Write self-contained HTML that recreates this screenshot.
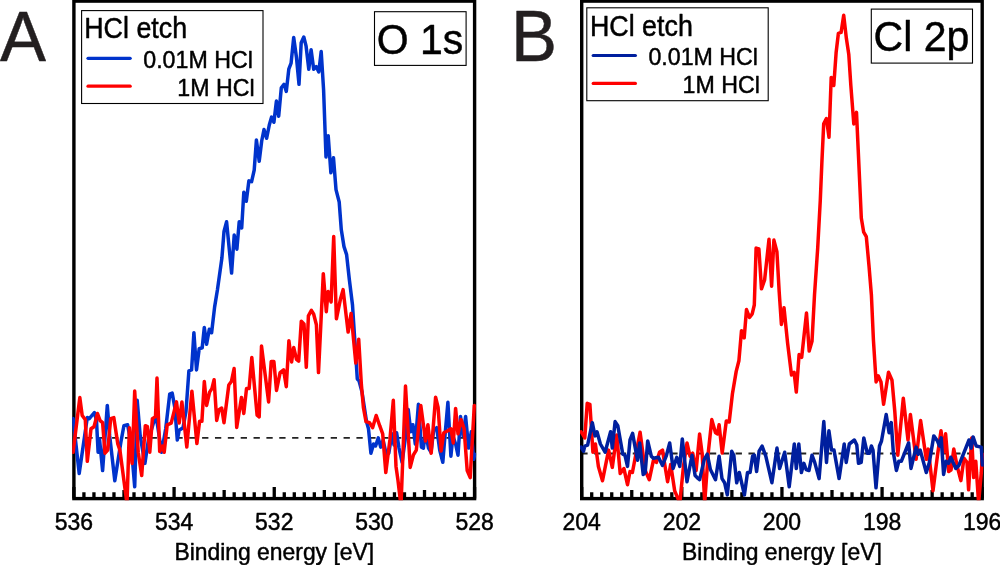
<!DOCTYPE html>
<html><head><meta charset="utf-8"><title>XPS O 1s and Cl 2p</title>
<style>
html,body{margin:0;padding:0;background:#fff;}
body{width:1000px;height:565px;overflow:hidden;}
svg{display:block;font-family:"Liberation Sans",Arial,Helvetica,sans-serif;}
</style></head>
<body>
<svg width="1000" height="565" viewBox="0 0 1000 565">
<rect width="1000" height="565" fill="#fff"/>
<clipPath id="ca"><rect x="72.20" y="0" width="404.10" height="500.30"/></clipPath>
<line x1="73.5" y1="437.9" x2="474.6" y2="437.9" stroke="#222" stroke-width="1.8" stroke-dasharray="6.3 6.56"/>
<rect x="73.9" y="1.1" width="400.70000000000005" height="497.5" fill="none" stroke="#000" stroke-width="3.4"/>
<path d="M73.90,498.6V487.1M83.92,498.6V492.35M93.94,498.6V492.35M103.95,498.6V492.35M113.97,498.6V492.35M123.99,498.6V489.9M134.00,498.6V492.35M144.02,498.6V492.35M154.04,498.6V492.35M164.06,498.6V492.35M174.08,498.6V487.1M184.09,498.6V492.35M194.11,498.6V492.35M204.13,498.6V492.35M214.15,498.6V492.35M224.16,498.6V489.9M234.18,498.6V492.35M244.20,498.6V492.35M254.22,498.6V492.35M264.23,498.6V492.35M274.25,498.6V487.1M284.27,498.6V492.35M294.29,498.6V492.35M304.30,498.6V492.35M314.32,498.6V492.35M324.34,498.6V489.9M334.36,498.6V492.35M344.37,498.6V492.35M354.39,498.6V492.35M364.41,498.6V492.35M374.43,498.6V487.1M384.44,498.6V492.35M394.46,498.6V492.35M404.48,498.6V492.35M414.50,498.6V492.35M424.51,498.6V489.9M434.53,498.6V492.35M444.55,498.6V492.35M454.57,498.6V492.35M464.58,498.6V492.35M474.60,498.6V487.1" stroke="#000" stroke-width="3.3" fill="none"/>
<g clip-path="url(#ca)">
<polyline points="73.1,418.6 79.2,473.5 87.3,417.6 89.3,418.6 94.4,412.5 96.5,420.6 98.1,452.2 99.5,438.9 102.6,470.5 107.3,405.4 109.7,435.9 114.8,480.7 120.9,442.0 123.9,425.7 127.6,424.7 131.1,444.0 134.7,486.8 137.2,400.3 140.2,435.9 144.9,463.4 148.4,440.0 153.5,422.7 156.5,418.6 161.6,452.2 165.7,428.8 169.7,394.2 172.2,393.1 174.8,407.4 177.3,440.0 179.2,430.2 183.0,427.7 186.0,411.5 188.9,370.8 191.6,369.9 193.9,332.7 196.5,369.9 199.2,348.7 202.2,347.8 204.3,327.4 206.6,344.2 209.3,329.2 211.6,332.7 214.6,307.1 217.4,290.0 221.9,258.1 224.0,231.5 226.6,221.8 231.6,273.1 234.2,235.1 236.9,249.2 239.2,221.8 241.7,228.0 243.8,192.3 246.3,201.2 248.9,180.8 251.6,181.7 254.2,170.2 256.4,140.1 259.2,161.3 261.7,141.0 264.0,129.5 266.6,138.3 269.3,125.0 271.6,117.1 273.9,122.3 276.4,101.1 278.7,116.2 281.3,87.8 284.0,84.3 286.3,91.4 288.8,69.2 291.1,63.1 293.7,37.4 296.4,56.9 299.0,84.3 301.2,42.7 303.8,37.0 306.1,46.2 308.8,69.2 311.1,49.8 313.7,69.2 316.2,66.6 318.8,71.9 321.2,51.5 323.6,90.0 326.0,157.0 328.2,135.7 330.9,172.8 333.5,157.8 336.0,189.6 339.2,202.0 341.3,229.8 344.0,246.6 346.6,254.6 349.3,279.3 352.5,305.0 357.3,379.0 359.0,380.8 362.0,392.0 366.5,421.6 368.5,428.8 370.9,453.2 373.6,444.0 375.6,446.0 378.3,437.9 380.7,447.1 383.1,440.0 386.4,455.2 388.8,453.2 391.9,433.8 394.0,445.0 396.6,432.8 399.0,448.1 402.1,462.3 405.1,440.0 408.2,409.4 410.8,431.8 412.9,424.7 415.3,444.0 418.4,404.3 421.4,447.1 423.4,448.1 425.5,431.8 428.5,448.1 431.0,452.2 433.6,430.8 436.7,427.7 439.7,450.1 442.8,462.3 444.8,437.9 447.9,402.3 450.9,456.2 452.9,435.9 455.6,444.0 458.0,455.2 460.5,416.5 463.1,435.9 465.6,416.5 468.6,448.1 471.3,431.8 473.7,459.3 474.7,454.2" fill="none" stroke="#0033cc" stroke-width="3.5" stroke-linejoin="round" stroke-linecap="round"/>
<polyline points="73.1,452.2 79.8,397.6 82.2,415.5 85.3,419.6 87.3,461.3 91.0,428.8 94.0,426.7 97.5,413.5 100.1,420.6 102.6,422.7 105.0,453.2 107.7,450.1 110.7,418.6 113.8,417.6 117.8,444.0 119.9,450.1 127.0,504.0 129.4,427.7 132.1,463.4 134.7,391.1 138.2,452.2 141.7,475.6 145.3,425.7 147.4,426.7 149.8,452.2 152.4,418.6 155.5,416.6 157.0,378.0 159.7,451.4 162.4,446.1 164.2,452.3 167.2,424.9 171.2,423.1 176.5,401.9 179.2,423.1 181.9,401.9 186.8,447.0 191.9,391.2 196.9,443.5 199.6,421.3 201.9,421.3 204.3,381.5 206.6,405.4 209.6,392.1 211.9,388.6 214.1,379.7 216.7,420.4 219.0,409.8 221.7,408.1 224.0,422.7 228.8,385.0 231.4,381.5 234.1,368.5 236.7,427.5 241.5,397.4 243.8,413.4 246.5,388.6 249.1,388.6 251.8,357.5 257.1,415.1 259.2,416.9 261.5,346.0 268.6,401.9 271.2,361.6 273.9,361.6 276.5,390.4 280.1,372.7 283.6,369.9 286.3,386.7 288.9,340.7 291.6,361.9 293.7,347.4 296.5,359.3 298.7,361.1 301.3,321.2 304.0,323.9 306.3,367.3 308.4,315.9 311.4,310.3 313.7,314.2 316.4,324.8 318.5,372.6 323.3,273.7 326.3,311.7 328.1,291.4 331.1,302.0 333.7,236.5 336.4,318.8 340.4,299.3 343.1,289.6 348.1,332.1 351.1,313.5 355.8,363.1 358.7,339.2 361.4,385.0 363.4,407.4 366.0,421.6 369.5,422.6 372.6,427.7 376.2,415.5 379.7,425.7 382.7,433.8 385.8,472.5 389.9,439.9 393.3,400.3 396.0,466.4 398.0,480.6 401.0,506.0 405.5,386.0 410.2,467.4 413.3,455.2 416.3,450.1 420.8,405.4 423.4,424.7 425.5,441.0 427.9,424.7 431.2,453.2 435.6,397.2 438.1,407.4 441.1,451.1 443.8,432.8 447.9,430.8 450.9,428.8 453.3,443.0 455.6,408.4 458.0,433.8 461.1,419.6 464.1,428.8 467.2,470.5 470.2,477.6 474.3,405.4" fill="none" stroke="#ff0000" stroke-width="3.5" stroke-linejoin="round" stroke-linecap="round"/>
</g>
<rect x="81.6" y="10.6" width="181.4" height="92.9" fill="#fff" stroke="#000" stroke-width="1.1"/>
<text transform="translate(84.20,38.20) scale(1.0,1.085)" font-size="26.85" text-anchor="start" fill="#000" stroke="#000" stroke-width="0.45" stroke-linejoin="round">HCl etch</text>
<line x1="88.0" y1="58.3" x2="130.2" y2="58.3" stroke="#0033cc" stroke-width="3.2" stroke-linecap="round"/>
<line x1="88.0" y1="86.2" x2="130.2" y2="86.2" stroke="#ff0000" stroke-width="3.2" stroke-linecap="round"/>
<text transform="translate(252.80,67.70) scale(1.0,1.0)" font-size="23.2" text-anchor="end" fill="#000" stroke="#000" stroke-width="0.45" stroke-linejoin="round">0.01M HCl</text>
<text transform="translate(254.60,95.60) scale(1.0,1.0)" font-size="23.2" text-anchor="end" fill="#000" stroke="#000" stroke-width="0.45" stroke-linejoin="round">1M HCl</text>
<rect x="374.5" y="11.7" width="91.6" height="53.7" fill="#fff" stroke="#000" stroke-width="1.1"/>
<text transform="translate(376.70,53.80) scale(1.0,1.045)" font-size="41" text-anchor="start" fill="#000" stroke="#000" stroke-width="0.45" stroke-linejoin="round">O 1s</text>
<text transform="translate(73.90,529.80) scale(1.0,1.045)" font-size="23.0" text-anchor="middle" fill="#000" stroke="#000" stroke-width="0.45" stroke-linejoin="round">536</text>
<text transform="translate(174.08,529.80) scale(1.0,1.045)" font-size="23.0" text-anchor="middle" fill="#000" stroke="#000" stroke-width="0.45" stroke-linejoin="round">534</text>
<text transform="translate(274.25,529.80) scale(1.0,1.045)" font-size="23.0" text-anchor="middle" fill="#000" stroke="#000" stroke-width="0.45" stroke-linejoin="round">532</text>
<text transform="translate(374.43,529.80) scale(1.0,1.045)" font-size="23.0" text-anchor="middle" fill="#000" stroke="#000" stroke-width="0.45" stroke-linejoin="round">530</text>
<text transform="translate(474.60,529.80) scale(1.0,1.045)" font-size="23.0" text-anchor="middle" fill="#000" stroke="#000" stroke-width="0.45" stroke-linejoin="round">528</text>
<text transform="translate(274.25,559.50) scale(1.0,1.045)" font-size="22.9" text-anchor="middle" fill="#000" stroke="#000" stroke-width="0.45" stroke-linejoin="round">Binding energy [eV]</text>
<text transform="translate(0.00,60.50) scale(1.0,1.03)" font-size="69" text-anchor="start" fill="#231f20" stroke="#231f20" stroke-width="0.45" stroke-linejoin="round">A</text>
<clipPath id="cb"><rect x="580.00" y="0" width="403.90" height="500.30"/></clipPath>
<line x1="581.3" y1="453.5" x2="982.2" y2="453.5" stroke="#222" stroke-width="1.8" stroke-dasharray="6.3 6.56"/>
<rect x="581.7" y="1.1" width="400.5" height="497.5" fill="none" stroke="#000" stroke-width="3.4"/>
<path d="M581.70,498.6V487.1M591.71,498.6V492.35M601.73,498.6V492.35M611.74,498.6V492.35M621.75,498.6V492.35M631.76,498.6V489.9M641.78,498.6V492.35M651.79,498.6V492.35M661.80,498.6V492.35M671.81,498.6V492.35M681.83,498.6V487.1M691.84,498.6V492.35M701.85,498.6V492.35M711.86,498.6V492.35M721.88,498.6V492.35M731.89,498.6V489.9M741.90,498.6V492.35M751.91,498.6V492.35M761.93,498.6V492.35M771.94,498.6V492.35M781.95,498.6V487.1M791.96,498.6V492.35M801.98,498.6V492.35M811.99,498.6V492.35M822.00,498.6V492.35M832.01,498.6V489.9M842.03,498.6V492.35M852.04,498.6V492.35M862.05,498.6V492.35M872.06,498.6V492.35M882.08,498.6V487.1M892.09,498.6V492.35M902.10,498.6V492.35M912.11,498.6V492.35M922.12,498.6V492.35M932.14,498.6V489.9M942.15,498.6V492.35M952.16,498.6V492.35M962.18,498.6V492.35M972.19,498.6V492.35M982.20,498.6V487.1" stroke="#000" stroke-width="3.3" fill="none"/>
<g clip-path="url(#cb)">
<polyline points="581.1,431.8 584.8,437.9 587.2,403.3 589.9,404.3 592.9,452.2 595.4,444.0 598.4,466.4 602.5,480.7 608.6,450.1 612.3,467.4 616.7,434.9 620.2,473.5 623.9,468.5 627.5,484.7 630.0,471.5 632.4,472.5 640.1,432.2 645.2,470.5 649.3,479.7 653.4,460.3 656.4,462.4 659.5,452.2 662.5,450.1 665.0,466.0 667.6,481.7 670.7,464.4 674.7,490.9 679.8,503.0 683.5,466.0 687.0,443.0 690.0,456.2 692.7,453.2 696.1,470.5 699.6,433.9 702.2,454.2 704.7,503.0 708.3,452.2 711.8,419.6 715.5,432.8 717.5,433.9 719.1,424.7 722.2,453.0 726.3,421.0 729.2,422.0 732.4,394.0 736.2,371.4 738.9,360.8 741.5,330.7 744.2,337.8 746.5,309.5 749.5,317.4 752.2,313.9 754.3,305.0 756.1,248.1 758.9,249.0 761.5,288.8 764.6,280.0 769.0,239.2 771.6,286.2 773.9,240.1 776.9,251.6 779.2,292.0 781.4,324.5 784.0,307.7 787.6,343.1 791.5,375.0 794.1,372.3 796.3,392.1 799.1,354.6 801.7,357.3 806.5,313.0 809.2,351.1 812.0,341.3 814.5,295.0 817.7,248.1 820.3,200.0 821.9,161.9 823.7,123.9 826.4,118.6 829.0,137.2 831.2,77.6 833.8,85.5 836.1,52.8 838.4,33.3 841.1,32.4 843.7,15.3 846.4,38.6 848.8,54.6 850.8,85.0 853.8,123.9 856.5,112.4 858.2,149.6 860.5,200.0 861.3,218.0 863.7,232.2 866.3,236.6 869.0,265.8 871.4,295.0 873.4,339.6 876.1,382.0 878.2,375.8 881.0,382.0 883.6,404.3 888.5,372.3 892.0,380.3 894.8,411.5 897.8,455.2 903.3,398.2 908.0,440.0 910.4,414.5 916.1,459.3 920.6,420.6 926.3,459.3 928.3,449.1 933.0,490.8 937.5,455.2 941.0,430.8 943.6,452.2 945.6,433.8 948.7,471.5 951.0,470.0 953.8,449.1 957.2,466.4 960.9,480.6 964.0,458.3 967.0,462.3 968.6,489.8 971.7,437.9 973.7,477.6 975.8,461.3 978.6,503.0 981.3,472.5 982.4,454.2" fill="none" stroke="#ff0000" stroke-width="3.5" stroke-linejoin="round" stroke-linecap="round"/>
<polyline points="581.1,447.1 583.5,451.2 584.8,446.1 587.6,445.1 592.3,422.7 595.0,435.9 597.0,431.8 600.4,444.0 605.1,452.2 610.6,431.8 612.3,448.1 615.1,421.6 617.8,425.7 622.8,454.2 624.9,455.2 627.5,466.4 630.0,440.0 632.6,433.4 637.5,460.3 639.7,443.0 643.2,474.6 645.2,472.5 647.7,441.0 651.3,456.2 653.4,458.3 658.5,457.3 662.5,465.4 666.2,456.2 669.7,443.0 673.1,468.5 676.8,457.3 679.8,466.4 682.3,438.9 687.0,481.7 692.0,455.2 695.1,475.6 697.1,477.6 699.6,479.7 704.3,459.3 707.3,454.2 710.4,469.5 715.5,479.7 719.1,456.2 722.0,478.6 724.6,482.7 727.3,494.9 731.7,451.2 733.8,455.2 736.7,482.7 739.3,472.5 744.4,494.9 747.5,472.5 750.1,472.5 752.6,456.2 754.3,455.0 756.6,471.5 759.1,451.2 762.1,446.1 765.8,456.2 771.9,482.7 777.0,448.1 779.6,468.5 784.7,452.2 789.2,486.8 794.3,444.0 796.3,468.5 798.8,444.0 801.4,472.5 803.9,463.4 806.1,469.5 809.0,470.5 812.0,455.2 814.7,462.4 819.1,478.6 823.8,421.6 826.5,462.4 828.9,430.8 831.6,450.1 834.0,450.1 839.1,478.6 844.2,444.0 846.2,462.4 849.3,444.0 854.4,440.0 856.8,445.1 858.5,463.3 861.2,462.3 863.8,437.9 867.3,453.2 869.3,453.2 871.4,446.0 873.0,450.1 876.0,487.8 879.5,446.0 881.5,441.0 886.2,414.5 889.1,432.8 891.3,422.6 893.3,452.2 896.4,470.5 898.8,461.3 901.3,461.3 908.6,443.0 911.0,468.4 916.1,447.1 918.2,454.2 920.2,450.1 926.3,472.5 929.4,462.3 933.8,435.9 937.5,441.0 939.5,446.0 941.2,437.9 943.6,474.5 946.1,461.3 948.7,463.3 950.7,457.2 955.8,468.4 958.9,465.4 969.0,440.0 971.1,448.1 973.1,436.9 976.2,446.0 981.3,447.1 982.4,465.0" fill="none" stroke="#001f9e" stroke-width="3.5" stroke-linejoin="round" stroke-linecap="round"/>
</g>
<rect x="586.8" y="7.8" width="181.4" height="92.9" fill="#fff" stroke="#000" stroke-width="1.1"/>
<text transform="translate(589.90,36.10) scale(1.0,1.085)" font-size="26.85" text-anchor="start" fill="#000" stroke="#000" stroke-width="0.45" stroke-linejoin="round">HCl etch</text>
<line x1="593.2" y1="55.5" x2="635.4" y2="55.5" stroke="#001f9e" stroke-width="3.2" stroke-linecap="round"/>
<line x1="593.2" y1="83.4" x2="635.4" y2="83.4" stroke="#ff0000" stroke-width="3.2" stroke-linecap="round"/>
<text transform="translate(758.00,64.90) scale(1.0,1.0)" font-size="23.2" text-anchor="end" fill="#000" stroke="#000" stroke-width="0.45" stroke-linejoin="round">0.01M HCl</text>
<text transform="translate(759.80,92.80) scale(1.0,1.0)" font-size="23.2" text-anchor="end" fill="#000" stroke="#000" stroke-width="0.45" stroke-linejoin="round">1M HCl</text>
<rect x="871.3" y="9.1" width="101.2" height="54.0" fill="#fff" stroke="#000" stroke-width="1.1"/>
<text transform="translate(873.60,51.40) scale(1.0,1.045)" font-size="41" text-anchor="start" fill="#000" stroke="#000" stroke-width="0.45" stroke-linejoin="round">Cl 2p</text>
<text transform="translate(581.70,529.80) scale(1.0,1.045)" font-size="23.0" text-anchor="middle" fill="#000" stroke="#000" stroke-width="0.45" stroke-linejoin="round">204</text>
<text transform="translate(681.83,529.80) scale(1.0,1.045)" font-size="23.0" text-anchor="middle" fill="#000" stroke="#000" stroke-width="0.45" stroke-linejoin="round">202</text>
<text transform="translate(781.95,529.80) scale(1.0,1.045)" font-size="23.0" text-anchor="middle" fill="#000" stroke="#000" stroke-width="0.45" stroke-linejoin="round">200</text>
<text transform="translate(882.08,529.80) scale(1.0,1.045)" font-size="23.0" text-anchor="middle" fill="#000" stroke="#000" stroke-width="0.45" stroke-linejoin="round">198</text>
<text transform="translate(982.20,529.80) scale(1.0,1.045)" font-size="23.0" text-anchor="middle" fill="#000" stroke="#000" stroke-width="0.45" stroke-linejoin="round">196</text>
<text transform="translate(781.95,559.50) scale(1.0,1.045)" font-size="22.9" text-anchor="middle" fill="#000" stroke="#000" stroke-width="0.45" stroke-linejoin="round">Binding energy [eV]</text>
<text transform="translate(511.00,60.80) scale(1.0,1.05)" font-size="69" text-anchor="start" fill="#231f20" stroke="#231f20" stroke-width="0.45" stroke-linejoin="round">B</text>
</svg>
</body></html>
